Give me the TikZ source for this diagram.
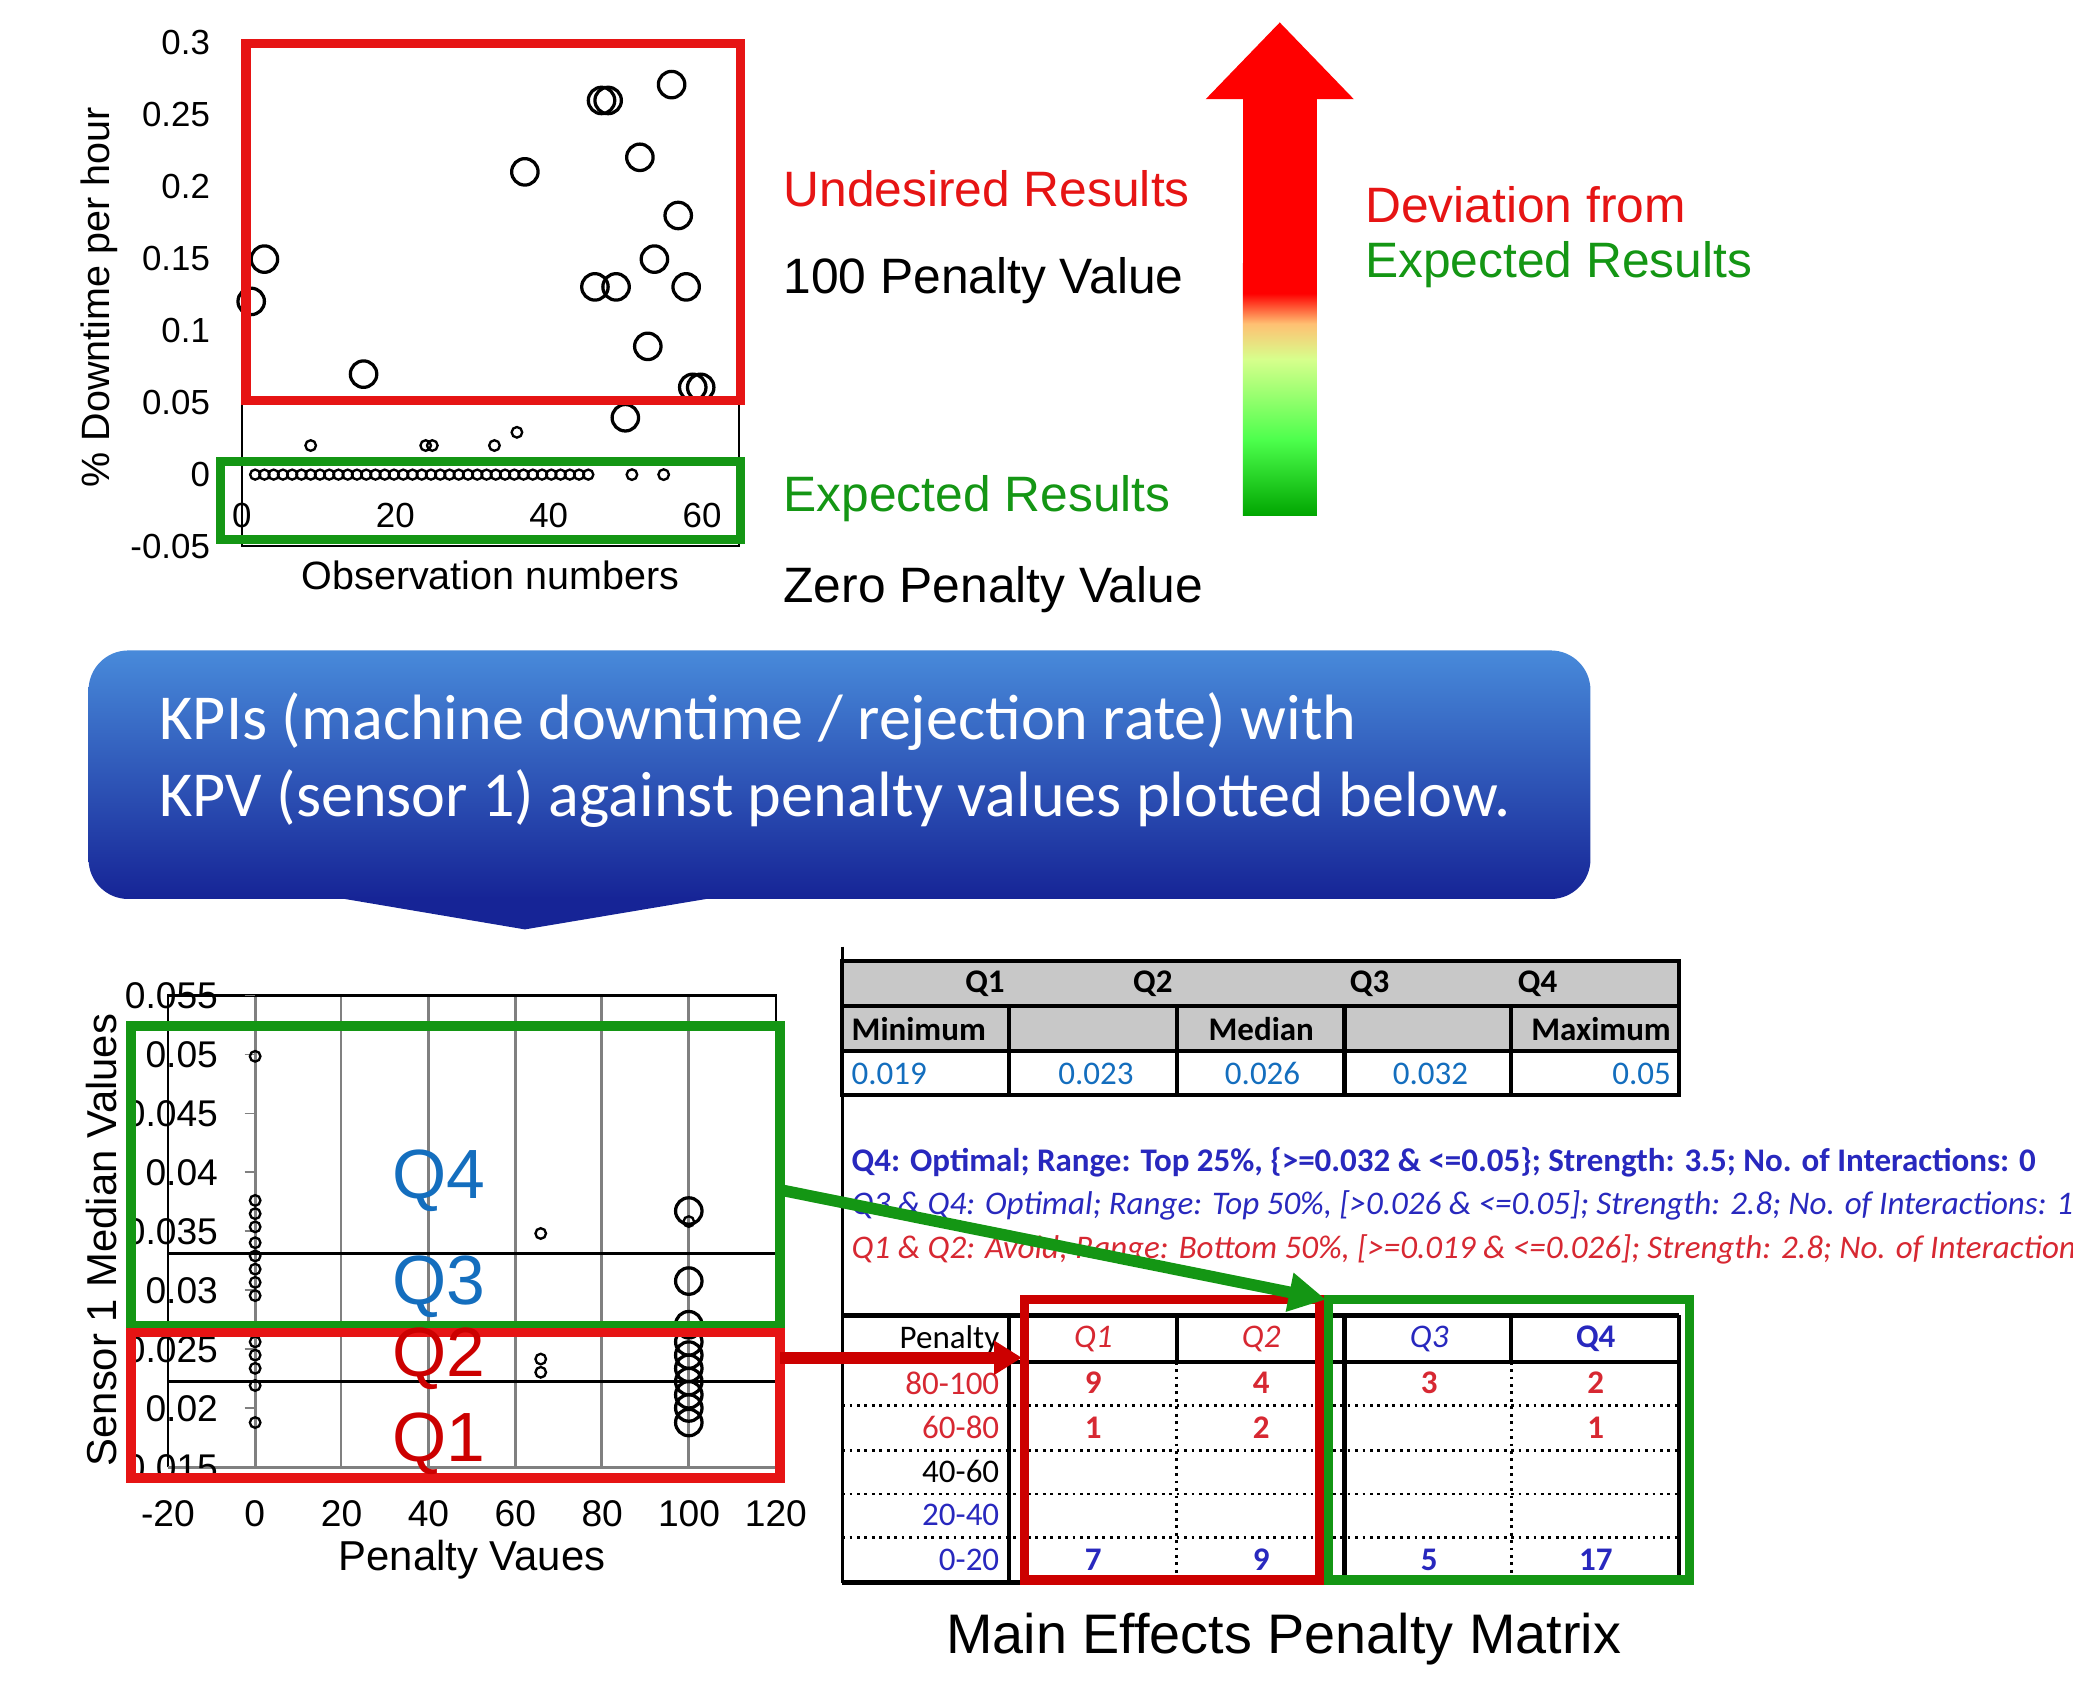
\documentclass[tikz,border=0pt]{standalone}
\usepackage{fontspec}
\setmainfont{Liberation Sans}
\newfontfamily\carl{Carlito}
\usetikzlibrary{arrows.meta}
\definecolor{qred}{RGB}{230,20,20}
\definecolor{qgreen}{RGB}{20,150,20}
\definecolor{qblue}{RGB}{20,110,190}
\definecolor{tblue}{RGB}{40,40,190}
\definecolor{tred}{RGB}{215,40,50}
\definecolor{gray1}{RGB}{200,200,200}
\definecolor{ctop}{RGB}{72,138,218}
\definecolor{cbot}{RGB}{22,36,150}
\pgfdeclareverticalshading{arrowshade}{100bp}{color(0bp)=(green!65!black); color(25bp)=(green!65!black); color(40bp)=(green!70!white); color(56bp)=(green!35!yellow!45!white); color(63bp)=(red!45!yellow!55!white); color(69bp)=(red); color(100bp)=(red)}
\pgfdeclareverticalshading{boxshade}{100bp}{color(0bp)=(cbot); color(25bp)=(cbot); color(75bp)=(ctop); color(100bp)=(ctop)}
\begin{document}
\begin{tikzpicture}[x=0.1mm,y=-0.1mm,
  lab/.style={font=\fontsize{7.5}{9}\selectfont,inner sep=1pt},
  big/.style={font=\fontsize{10.7}{12}\selectfont,anchor=west,inner sep=0},
  bp/.style={draw,line width=0.7pt},
  sp/.style={draw,line width=0.5pt},
  hbox/.style={line width=2pt},
  tt/.style={font=\carl\fontsize{7.1}{8}\selectfont,inner sep=1pt},
  ttb/.style={font=\carl\bfseries\fontsize{7.1}{8}\selectfont,inner sep=1pt},
  tti/.style={font=\carl\itshape\fontsize{7.1}{8}\selectfont,inner sep=1pt}]
\useasboundingbox (0,0) rectangle (1568,1290);
\fill[white] (0,0) rectangle (1568,1290);
% ---------- top plot
\draw[line width=0.6pt] (559,32) -- (183,32) -- (183,413) -- (559,413) -- (559,32);
\foreach \v/\t in {0/0.3,1/0.25,2/0.2,3/0.15,4/0.1,5/0.05,6/0,7/-0.05}
  \node[lab,anchor=east] (ty\v) at (163,{32+54.5*\v}) {\t};
\foreach \v/\t in {0/0,1/20,2/40,3/60}
  \node[lab] (tx\v) at ({183+116*\v},390) {\t};
\node[lab,rotate=90,font=\fontsize{8.5}{10}\selectfont] (ylab1) at (75,225) {\% Downtime per hour};
\node[lab,font=\fontsize{8.5}{10}\selectfont] (xlab1) at (371,435) {Observation numbers};
\foreach \x/\y in {190/228,200/196,275/283,397/130,455/76,460/76,508/64,484/119,513/163,495/196,450/217,466/217,519/217,490/262,473/316,524/293,530/293}
  \draw[bp] (\x,\y) circle (10);
\foreach \x/\y in {235/337,322/337,327/337,374/337,391/327,478/359,502/359}
  \draw[sp] (\x,\y) circle (4);
\foreach \x in {193,200,...,448}
  \draw[sp] (\x,359) circle (3.8);
\draw[qred,hbox] (186,33) rectangle (560,303);
\draw[qgreen,hbox] (167,349) rectangle (560,408);
\node[big,text=qred] (undes) at (592,143) {Undesired Results};
\node[big] (p100) at (592,212) {100 Penalty Value};
\node[big,text=qgreen] (expr) at (592,377) {Expected Results};
\node[big] (p0) at (592,446) {Zero Penalty Value};
\node[big,text=qred] (dev1) at (1032,155) {Deviation from};
\node[big,text=qgreen] (dev2) at (1032,200) {Expected Results};
% arrow
\fill[red] (940,75) rectangle (996,200);
\shade[shading=arrowshade] (940,199) rectangle (996,390);
\fill[red] (912,75) -- (968,17) -- (1024,75) -- cycle;
% ---------- callout
\shade[shading=boxshade,rounded corners=3mm] (67,492) rectangle (1203,680);
\fill[cbot] (255,679) -- (540,679) -- (397,703) -- cycle;
\node[font=\carl\fontsize{13.8}{16.5}\selectfont,text=white,anchor=west,align=left,inner sep=0] (call) at (120,575)
  {KPIs (machine downtime / rejection rate) with\\KPV (sensor 1) against penalty values plotted below.};
% ---------- bottom plot
\foreach \x in {193,258,324,390,455,521}
  \draw[gray,line width=0.6pt] (\x,753) -- (\x,1110);
\draw[line width=0.6pt] (127,1110) -- (127,753) -- (587,753) -- (587,1110);
\draw[gray,line width=0.6pt] (127,1110) -- (587,1110);
\draw[line width=0.6pt] (127,948) -- (587,948);
\draw[line width=0.6pt] (127,1045) -- (587,1045);
\foreach \v/\t in {0/0.055,1/0.05,2/0.045,3/0.04,4/0.035,5/0.03,6/0.025,7/0.02,8/0.015}{
  \draw[gray] (185,{753+44.6*\v}) -- (193,{753+44.6*\v});
  \node[lab,anchor=east,font=\fontsize{8}{9}\selectfont] (by\v) at (169,{753+44.6*\v}) {\t};}
\foreach \v/\t in {0/-20,1/0,2/20,3/40,4/60,5/80,6/100,7/120}
  \node[lab,font=\fontsize{8}{9}\selectfont] (bx\v) at ({127+65.7*\v},1145) {\t};
\node[lab,font=\fontsize{9}{10}\selectfont] (bxl) at (357,1180) {Penalty Vaues};
\node[lab,rotate=90,font=\fontsize{9}{10}\selectfont] (byl) at (77,938) {Sensor 1 Median Values};
\foreach \y in {799,908,918,928,940,950,960,970,980,1015,1025,1035,1048,1076}
  \draw[sp] (193,\y) circle (4);
\foreach \y in {933,1028,1038} \draw[sp] (409,\y) circle (4);
\draw[sp] (521,924) circle (4);
\foreach \y in {916,969,1002,1015,1025,1035,1045,1055,1065,1076} \draw[bp] (521,\y) circle (10);
\draw[qgreen,hbox] (99,776) rectangle (590,1003);
\draw[qred,hbox] (99,1008) rectangle (590,1118);
\node[font=\fontsize{15}{16}\selectfont,text=qblue] (q4) at (332,893) {Q4};
\node[font=\fontsize{15}{16}\selectfont,text=qblue] (q3) at (332,973) {Q3};
\node[font=\fontsize{15}{16}\selectfont,text=red!80!black] (q2) at (332,1028) {Q2};
\node[font=\fontsize{15}{16}\selectfont,text=red!80!black] (q1) at (332,1092) {Q1};
% ---------- upper table
\draw[line width=0.6pt] (637,716) -- (637,1197);
\fill[gray1] (637,727) rectangle (1270,795);
\draw[line width=0.9pt] (637,727) rectangle (1270,828);
\draw[line width=0.9pt] (637,761) -- (1270,761) (637,795) -- (1270,795);
\foreach \x in {763,890,1017,1143} \draw[line width=0.9pt] (\x,761) -- (\x,828);
\foreach \x/\t in {745/Q1,872/Q2,1036/Q3,1163/Q4} \node[ttb] (h\t) at (\x,744) {\t};
\node[ttb,anchor=west] (hmin) at (640,778) {Minimum};
\node[ttb] (hmed) at (954,778) {Median};
\node[ttb,anchor=east] (hmax) at (1268,778) {Maximum};
\node[tt,text=qblue,anchor=west] (v1) at (640,812) {0.019};
\node[tt,text=qblue] (v2) at (829,812) {0.023};
\node[tt,text=qblue] (v3) at (955,812) {0.026};
\node[tt,text=qblue] (v4) at (1082,812) {0.032};
\node[tt,text=qblue,anchor=east] (v5) at (1268,812) {0.05};
% text lines
\node[ttb,text=tblue,anchor=west] (l1) at (640,879) {Q4: Optimal; Range: Top 25\%, \{>=0.032 \& <=0.05\}; Strength: 3.5; No. of Interactions: 0};
\node[tti,text=tblue,anchor=west] (l2) at (640,912) {Q3 \& Q4: Optimal; Range: Top 50\%, [>0.026 \& <=0.05]; Strength: 2.8; No. of Interactions: 1};
\node[tti,text=tred,anchor=west] (l3) at (640,945) {Q1 \& Q2: Avoid; Range: Bottom 50\%, [>=0.019 \& <=0.026]; Strength: 2.8; No. of Interaction};
% ---------- lower table
\draw[line width=0.9pt] (637,995) -- (1270,995) (637,1030) -- (1270,1030) (637,1197) -- (1270,1197) (1270,995) -- (1270,1197);
\foreach \y in {1063,1097,1130,1163} \draw[densely dotted,line width=0.6pt] (637,\y) -- (1270,\y);
\foreach \x in {763,1017} \draw[line width=0.9pt] (\x,995) -- (\x,1197);
\foreach \x in {890,1143} {\draw[line width=0.9pt] (\x,995) -- (\x,1030); \draw[densely dotted,line width=0.6pt] (\x,1030) -- (\x,1197);}
\node[tt,anchor=east] (pen) at (760,1013) {Penalty};
\node[tti,text=tred] (c1) at (827,1013) {Q1};
\node[tti,text=tred] (c2) at (954,1013) {Q2};
\node[tti,text=tblue] (c3) at (1081,1013) {Q3};
\node[ttb,text=tblue] (c4) at (1207,1013) {Q4};
\foreach \y/\t/\c/\n in {1046/80-100/tred/a,1080/60-80/tred/b,1113/40-60/black/c,1146/20-40/tblue/d,1180/0-20/tblue/e}
  \node[tt,text=\c,anchor=east] (r\n) at (760,\y) {\t};
\foreach \x/\y/\t/\c/\n in {827/1046/9/tred/a1,954/1046/4/tred/a2,1081/1046/3/tred/a3,1207/1046/2/tred/a4,827/1080/1/tred/b1,954/1080/2/tred/b2,1207/1080/1/tred/b4,827/1180/7/tblue/e1,954/1180/9/tblue/e2,1081/1180/5/tblue/e3,1207/1180/17/tblue/e4}
  \node[ttb,text=\c] (n\n) at (\x,\y) {\t};
\draw[red!80!black,hbox] (775,983) rectangle (998,1195);
\draw[qgreen,hbox] (1005,983) rectangle (1278,1195);
\coordinate (gs) at (590,900);
\coordinate (ge) at (1003,983);
\coordinate (rs) at (590,1027);
\coordinate (re) at (773,1027);
\draw[qgreen,line width=2.5pt,-{Triangle[length=8pt,width=8pt]}] (gs) -- (ge);
\draw[red!80!black,line width=2.5pt,-{Triangle[length=6pt,width=7pt]}] (rs) -- (re);
\node[font=\fontsize{12}{14}\selectfont] (title) at (971,1240) {Main Effects Penalty Matrix};
\end{tikzpicture}
\end{document}
